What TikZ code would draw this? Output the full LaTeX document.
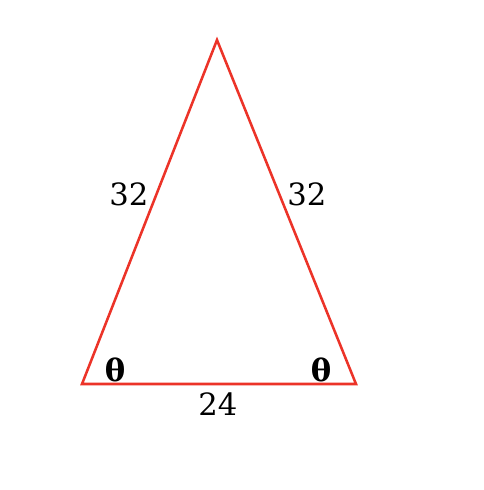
\documentclass[tikz,border=0pt]{standalone}
\usepackage{fontspec}
\setmainfont{DejaVu Serif}
\tikzset{
  side/.style={draw={rgb, 255:red, 236; green, 51; blue, 40}, line width=1.9pt, line join=miter},
  lbl/.style={inner sep=0.75pt, font=\fontsize{23}{28}\selectfont},
  ang/.style={inner sep=0.75pt, font=\fontsize{23}{28}\selectfont\bfseries}
}
\begin{document}
\begin{tikzpicture}[x=0.75pt,y=0.75pt,yscale=-1,xscale=1]
\useasboundingbox (0,0) rectangle (484,490);

%Shape: Triangle
\coordinate (apex) at (217,40);
\coordinate (bl) at (82,384);
\coordinate (br) at (356,384);
\draw [side] (apex) -- (br) -- (bl) -- cycle ;

% Text Node
\node [lbl] (sideL) at (129,194) {32};
% Text Node
\node [lbl] (sideR) at (307,194) {32};
% Text Node
\node [lbl] (base) at (218,404) {24};
% Text Node
\node [ang] (angL) at (115,370) {θ};
% Text Node
\node [ang] (angR) at (321,370) {θ};

\end{tikzpicture}
\end{document}
